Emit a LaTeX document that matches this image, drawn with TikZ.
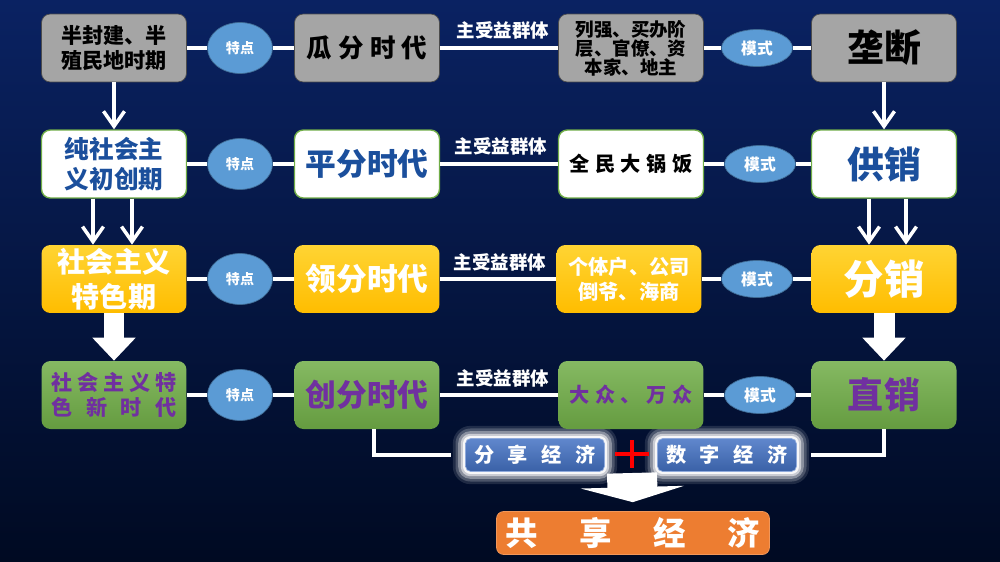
\documentclass[tikz,border=0pt]{standalone}
\usepackage{fontspec}
\setmainfont{Noto Sans CJK SC}
\usepackage{xcolor}
\usetikzlibrary{arrows.meta, positioning, calc, shapes.geometric}

\definecolor{bgtop}{HTML}{0A2262}
\definecolor{bgbot}{HTML}{000A22}
\definecolor{grayfill}{HTML}{A5A5A5}
\definecolor{ovalblue}{HTML}{5B9BD5}
\definecolor{leafgreen}{HTML}{70AD47}
\definecolor{gold}{HTML}{FFC000}
\definecolor{violet}{HTML}{7030A0}
\definecolor{navytext}{HTML}{1B4F9C}
\definecolor{sharedblue}{HTML}{4472C4}
\definecolor{orangebox}{HTML}{ED7D31}

\pgfdeclarelayer{bg}
\pgfdeclarelayer{glow}
\pgfsetlayers{bg,glow,main}

\begin{document}
\begin{tikzpicture}[x=0.02cm, y=-0.02cm,
    box/.style={rounded corners=5pt, minimum width=2.9cm, minimum height=1.36cm,
        align=center, inner sep=1pt},
    graybox/.style={box, fill=grayfill, draw=gray!60!black, text=black},
    whitebox/.style={box, fill=white, draw=leafgreen, line width=0.8pt},
    goldbox/.style={box, top color=gold!85!yellow!80!white, bottom color=gold!95!orange, text=white},
    greenbox/.style={box, top color=leafgreen!85!white, bottom color=leafgreen!90!black, text=violet},
    oval/.style={ellipse, fill=ovalblue, draw=ovalblue!70!black, text=white, inner sep=0pt},
    tedian/.style={oval, minimum width=1.3cm, minimum height=1.02cm,
        font=\bfseries\fontsize{8}{9}\selectfont},
    moshi/.style={oval, minimum width=1.42cm, minimum height=0.74cm,
        font=\bfseries\fontsize{9}{10}\selectfont},
    gainer/.style={text=white, inner sep=0pt, font=\bfseries\fontsize{10.5}{12}\selectfont},
    link/.style={draw=white, line width=2.2pt},
    thinarrow/.style={draw=white, line width=2pt, -{Straight Barb[length=0.3cm, width=0.42cm]}},
    fatarrow/.style={draw=white, line width=0.42cm, -{Triangle[length=0.46cm, width=0.84cm]}},
    econbox/.style={rounded corners=3pt, minimum width=2.78cm, minimum height=0.66cm,
        top color=sharedblue!85!white, bottom color=sharedblue!85!black, text=white,
        draw=sharedblue!60!white, inner sep=0pt,
        font=\bfseries\fontsize{11.5}{12}\selectfont},
]
    % Background
    \begin{pgfonlayer}{bg}
        \fill[top color=bgtop, bottom color=bgbot] (0,0) rectangle (1000,561);
    \end{pgfonlayer}

    % Row 1
    \node[graybox, font=\bfseries\fontsize{12}{14}\selectfont] (p1) at (114,48) {半封建、半\\殖民地时期};
    \node[tedian] (t1) at (240,48) {特点};
    \node[graybox, font=\bfseries\fontsize{14.5}{16}\selectfont] (e1) at (367,48) {\makebox[2.42cm][s]{瓜 分 时 代}};
    \node[graybox, font=\bfseries\fontsize{10.5}{10.8}\selectfont] (g1) at (631,48) {列强、买办阶\\层、官僚、资\\本家、地主};
    \node[moshi] (s1) at (757,48) {模式};
    \node[graybox, font=\bfseries\fontsize{21}{24}\selectfont] (m1) at (884,48) {垄断};

    % Row 2
    \node[whitebox, text=navytext, font=\bfseries\fontsize{14}{17}\selectfont] (p2) at (114,164) {纯社会主\\义初创期};
    \node[tedian] (t2) at (240,164) {特点};
    \node[whitebox, text=navytext, font=\bfseries\fontsize{17.5}{20}\selectfont] (e2) at (367,164) {平分时代};
    \node[whitebox, text=black, font=\bfseries\fontsize{11.5}{13}\selectfont] (g2) at (631,164) {\makebox[2.46cm][s]{全 民 大 锅 饭}};
    \node[moshi] (s2) at (760,164) {模式};
    \node[whitebox, text=navytext, font=\bfseries\fontsize{21}{24}\selectfont] (m2) at (884,164) {供销};

    % Row 3
    \node[goldbox, font=\bfseries\fontsize{16}{20}\selectfont] (p3) at (114,279) {社会主义\\特色期};
    \node[tedian] (t3) at (240,279) {特点};
    \node[goldbox, font=\bfseries\fontsize{17.5}{20}\selectfont] (e3) at (367,279) {领分时代};
    \node[goldbox, font=\bfseries\fontsize{11.5}{14}\selectfont] (g3) at (629,279) {个体户、公司\\倒爷、海商};
    \node[moshi] (s3) at (757,279) {模式};
    \node[goldbox, font=\bfseries\fontsize{23}{26}\selectfont] (m3) at (884,279) {分销};

    % Row 4
    \node[greenbox, font=\bfseries\fontsize{12}{14}\selectfont] (p4) at (114,395) {\makebox[2.5cm][s]{社 会 主 义 特}\\\makebox[2.5cm][s]{色 新 时 代}};
    \node[tedian] (t4) at (240,395) {特点};
    \node[greenbox, font=\bfseries\fontsize{17.5}{20}\selectfont] (e4) at (367,395) {创分时代};
    \node[greenbox, font=\bfseries\fontsize{11.5}{13}\selectfont] (g4) at (631,395) {\makebox[2.46cm][s]{大 众 、 万 众}};
    \node[moshi] (s4) at (760,395) {模式};
    \node[greenbox, font=\bfseries\fontsize{20.5}{24}\selectfont] (m4) at (884,395) {直销};

    % Horizontal links
    \foreach \r in {1,2,3,4} {
        \draw[link] (p\r) -- (t\r) -- (e\r) -- (g\r) -- (s\r) -- (m\r);
    }

    % Beneficiary labels
    \node[gainer] (b1) at (503,30) {主受益群体};
    \node[gainer] (b2) at (501,146) {主受益群体};
    \node[gainer] (b3) at (500,262) {主受益群体};
    \node[gainer] (b4) at (503,378) {主受益群体};

    % Vertical arrows, left
    \draw[thinarrow] (p1.south) -- (p2.north);
    \draw[thinarrow] ([xshift=-0.42cm]p2.south) -- ([xshift=-0.42cm]p3.north);
    \draw[thinarrow] ([xshift=0.36cm]p2.south) -- ([xshift=0.36cm]p3.north);
    \draw[fatarrow] (p3.south) -- (p4.north);

    % Vertical arrows, right
    \draw[thinarrow] (m1.south) -- (m2.north);
    \draw[thinarrow] ([xshift=-0.3cm]m2.south) -- ([xshift=-0.3cm]m3.north);
    \draw[thinarrow] ([xshift=0.44cm]m2.south) -- ([xshift=0.44cm]m3.north);
    \draw[fatarrow] (m3.south) -- (m4.north);

    % Bottom
    \node[econbox] (share) at (535,455) {\makebox[2.44cm][s]{分 享 经 济}};
    \node[econbox] (digit) at (727,455) {\makebox[2.44cm][s]{数 字 经 济}};
    \begin{pgfonlayer}{glow}
        \foreach \b in {share, digit} {
            \foreach \o/\a in {7/0.12, 5.5/0.2, 4/0.35, 2.5/0.55, 1.2/0.85} {
                \fill[white, opacity=\a, rounded corners=\o pt+3pt]
                    ([shift={(-\o pt,\o pt)}]\b.north west) rectangle ([shift={(\o pt,-\o pt)}]\b.south east);
            }
        }
    \end{pgfonlayer}
    \draw[red, line width=2.8pt] (615,454) -- (649,454) (632,440) -- (632,468);
    \draw[link] ([xshift=4]e4.south) |- ([xshift=-8]share.west);
    \draw[link] (m4.south) |- ([xshift=8]digit.east);

    \node[rounded corners=4pt, fill=orangebox, draw=orangebox!80!white, text=white,
        minimum width=5.46cm, minimum height=0.86cm, inner sep=0pt,
        font=\bfseries\fontsize{18.5}{20}\selectfont] (gx) at (633,533) {\makebox[5.1cm][s]{共 享 经 济}};
    \coordinate (merge) at (632,473);
    \draw[draw=white, line width=1cm, shorten >=0.18cm,
        -{Triangle[length=0.3cm, width=2.06cm]}] (merge) -- (gx.north);
\end{tikzpicture}
\end{document}
